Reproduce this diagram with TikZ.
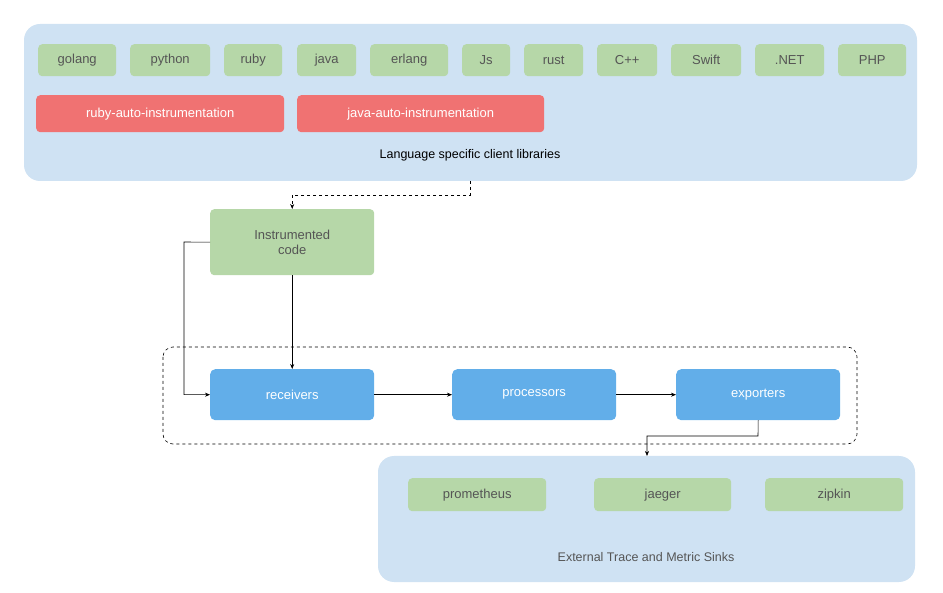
\documentclass[tikz,border=0pt]{standalone}
\usepackage{fontspec}
\setmainfont{Liberation Sans}
\usetikzlibrary{arrows.meta}
\definecolor{lb}{HTML}{CFE2F3}
\definecolor{gr}{HTML}{B6D7A8}
\definecolor{rd}{HTML}{F07272}
\definecolor{bl}{HTML}{62AEE9}
\definecolor{tx}{HTML}{555555}
\begin{document}
\begin{tikzpicture}[x=1pt,y=-1pt,
 pill/.style={fill=gr,rounded corners=4pt,text=tx,font=\fontsize{13}{15}\selectfont},
 red/.style={fill=rd,rounded corners=4pt,text=white,font=\fontsize{13}{15}\selectfont},
 blue/.style={fill=bl,rounded corners=5pt,text=white,font=\fontsize{13}{15}\selectfont},
 arr/.style={-{Stealth[length=5pt,width=4pt]},line width=0.6pt},
 lbl/.style={font=\fontsize{12.5}{15}\selectfont}]
\useasboundingbox (0,0) rectangle (943,593);
\fill[lb,rounded corners=16pt] (24,24) rectangle (917,181);
\fill[lb,rounded corners=16pt] (378,456) rectangle (915,582);
\foreach \a/\b/\t/\n in {38/116/golang/g1,130/210/python/g2,224/282/ruby/g3,297/356/java/g4,370/448/erlang/g5,462/510/Js/g6,524/583/rust/g7,597/657/C++/g8,671/741/Swift/g9,755/824/.NET/g10,838/906/PHP/g11}
  \node[pill,minimum width={\b-\a},minimum height=32,anchor=north west,inner sep=0] (\n) at (\a,44) {\t};
\node[red,minimum width=248,minimum height=37,anchor=north west,inner sep=0] (r1) at (36,95) {ruby-auto-instrumentation};
\node[red,minimum width=247,minimum height=37,anchor=north west,inner sep=0] (r2) at (297,95) {java-auto-instrumentation};
\node[lbl] (top) at (470,155) {Language specific client libraries};
\coordinate (ts) at (470,181);
\node[pill,minimum width=164,minimum height=66,align=center,anchor=north west,inner sep=0] (ic) at (210,209) {Instrumented\\code};
\draw[rounded corners=10pt,dashed,line width=0.6pt] (163,347) rectangle (857,444);
\node[blue,minimum width=164,minimum height=51,anchor=north west,inner sep=0] (rc) at (210,369) {receivers};
\node[blue,minimum width=164,minimum height=51,anchor=north west,inner sep=0] (pr) at (452,369) {processors};
\node[blue,minimum width=164,minimum height=51,anchor=north west,inner sep=0] (ex) at (676,369) {exporters};
\node[pill,minimum width=138,minimum height=33,anchor=north west,inner sep=0] (pm) at (408,478) {prometheus};
\node[pill,minimum width=137,minimum height=33,anchor=north west,inner sep=0] (jg) at (594,478) {jaeger};
\node[pill,minimum width=138,minimum height=33,anchor=north west,inner sep=0] (zp) at (765,478) {zipkin};
\node[lbl,text=tx] (bt) at (646,557) {External Trace and Metric Sinks};
\coordinate (bs) at (647,456);
\draw[arr,dashed] (ts) -- (470,195) -| (ic.north);
\draw[arr] (ic.south) -- (rc.north);
\draw[arr] (ic.west) -- (184,242) |- (rc.west);
\draw[arr] (rc) -- (pr);
\draw[arr] (pr) -- (ex);
\draw[arr] (ex.south) -- (758,436) -| (bs);
\end{tikzpicture}
\end{document}
